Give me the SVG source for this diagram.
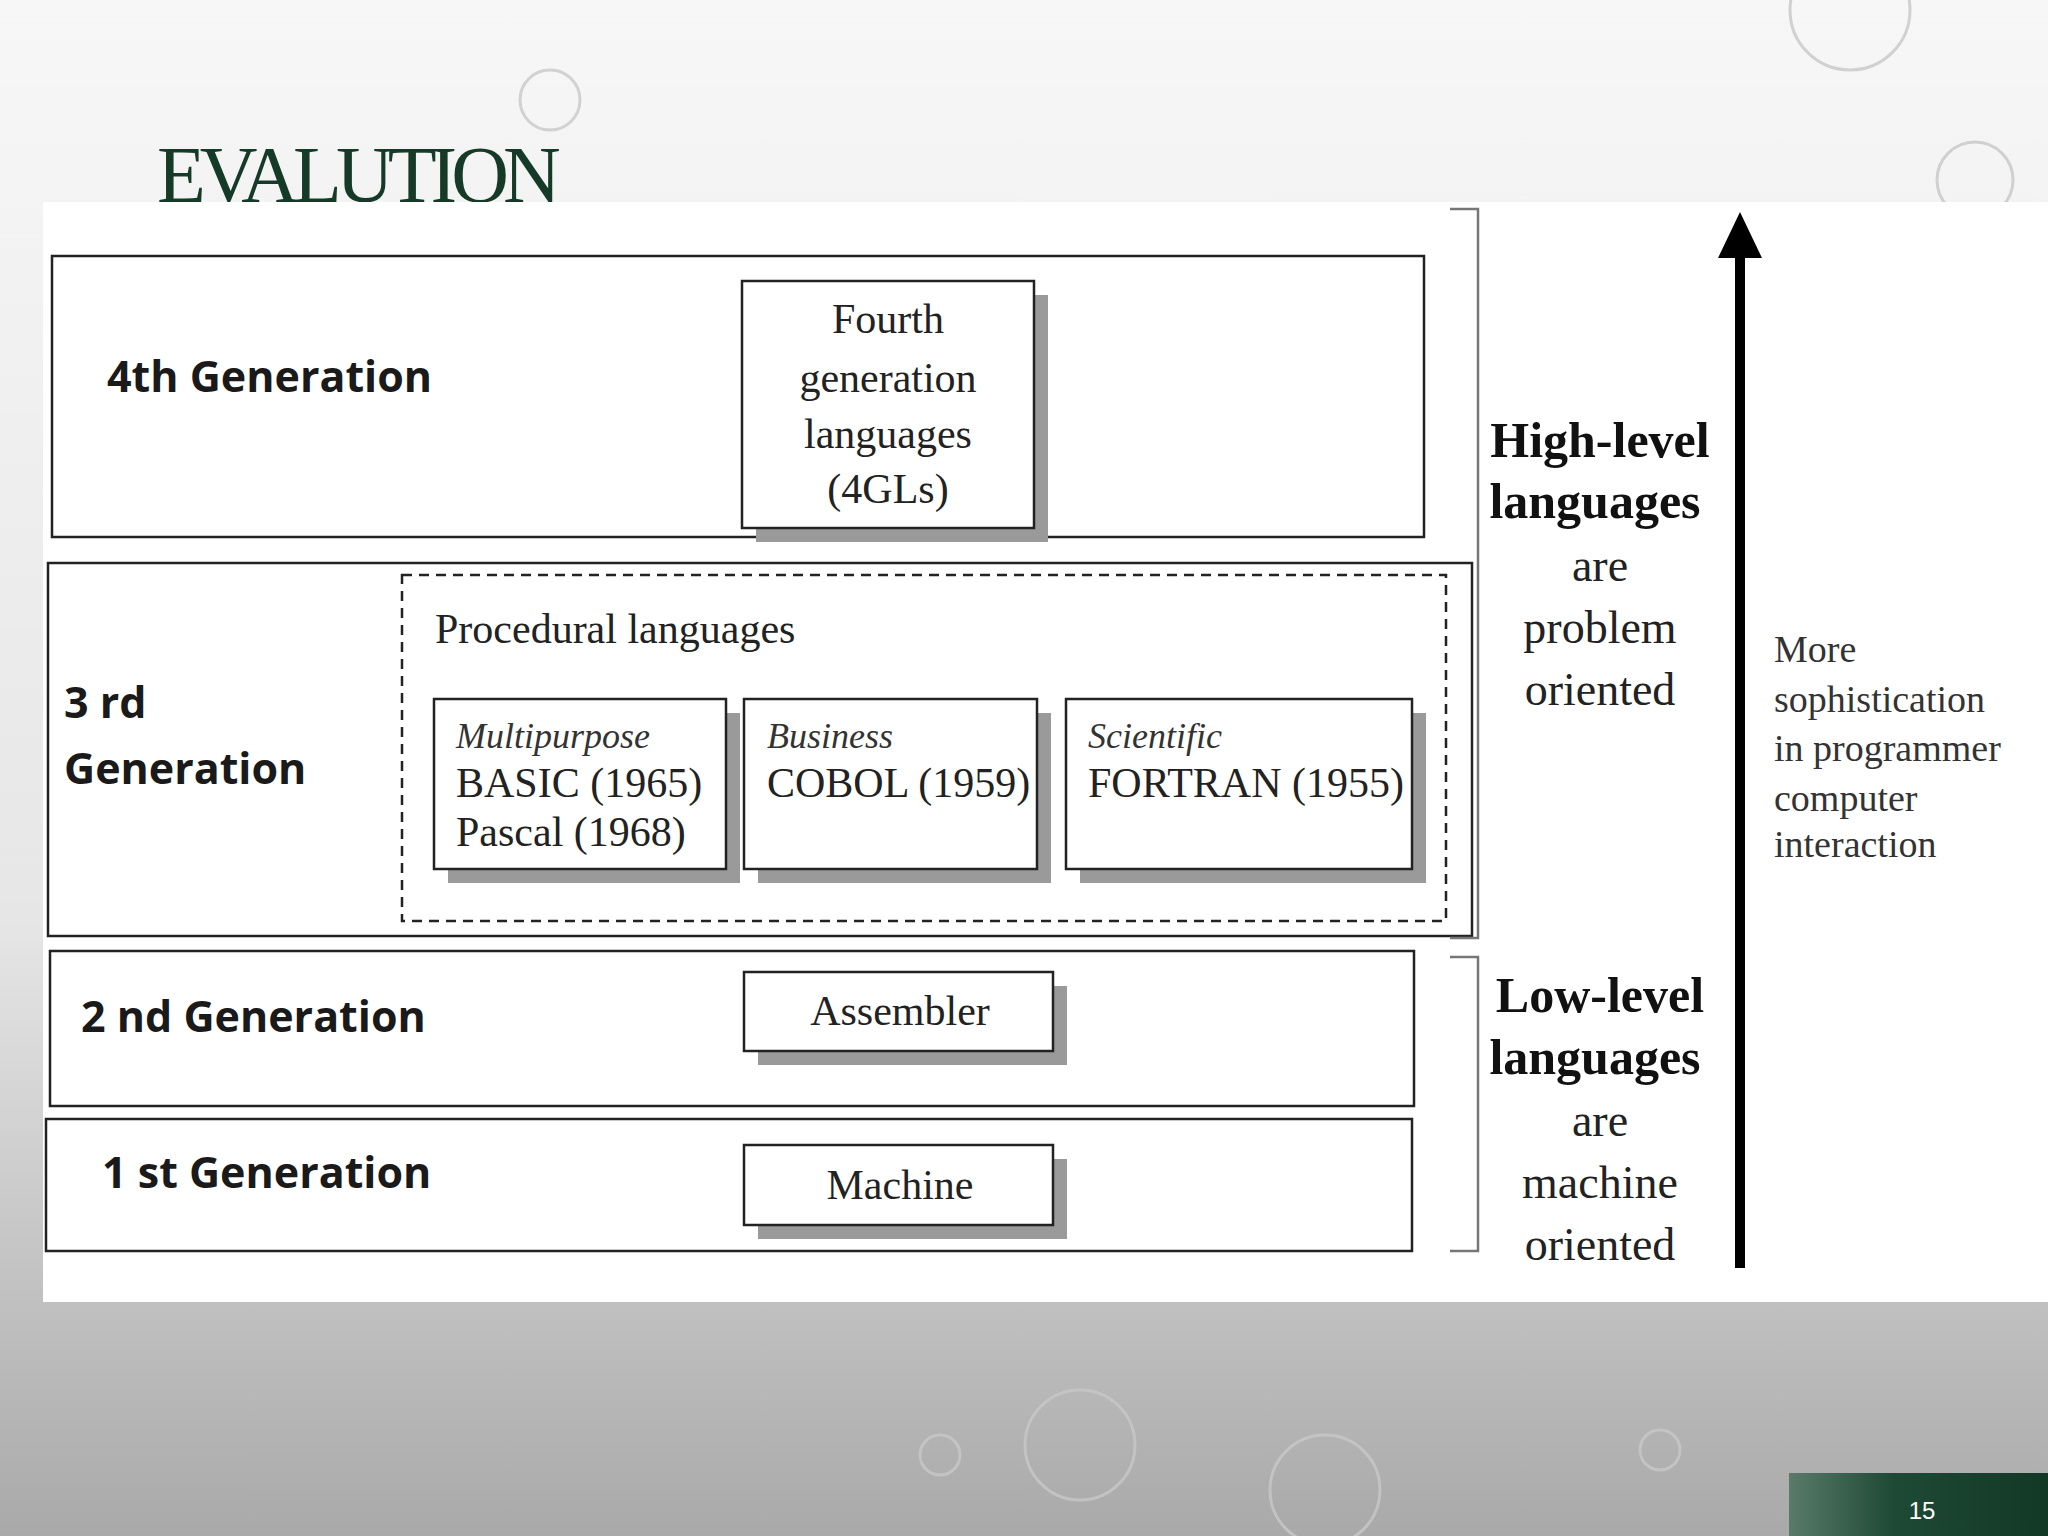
<svg xmlns="http://www.w3.org/2000/svg" width="2048" height="1536" viewBox="0 0 2048 1536">
<defs>
<linearGradient id="bg" x1="0" y1="0" x2="0" y2="1"><stop offset="0" stop-color="#f7f7f7"/><stop offset="0.6" stop-color="#e6e6e6"/><stop offset="1" stop-color="#a9a9a9"/></linearGradient>
<linearGradient id="pg" x1="0" y1="0" x2="1" y2="0"><stop offset="0" stop-color="#5a7a6a"/><stop offset="0.4" stop-color="#1e4a35"/><stop offset="1" stop-color="#123826"/></linearGradient>
<style>
.box{fill:#fff;stroke:#222;stroke-width:2.5}
.sbox{fill:#fff;stroke:#222;stroke-width:2.5}
.sh{fill:#9a9a9a}
.gen{font-family:"Open Sans","DejaVu Sans",sans-serif;font-weight:bold;font-size:43px;fill:#1a1a1a}
.ser{font-family:"Liberation Serif",serif;font-size:42px;fill:#222}
.it{font-family:"Liberation Serif",serif;font-style:italic;font-size:36px;fill:#333}
.rb{font-family:"Liberation Serif",serif;font-weight:bold;font-size:50px;fill:#111;text-anchor:middle}
.rr{font-family:"Liberation Serif",serif;font-size:46px;fill:#222;text-anchor:middle}
.sm{font-family:"Liberation Serif",serif;font-size:38px;fill:#333}
</style>
</defs>
<rect width="2048" height="1536" fill="url(#bg)"/>
<g fill="none" stroke="#c8c8c8" stroke-width="3" opacity="0.8">
<circle cx="1080" cy="1445" r="55"/><circle cx="940" cy="1455" r="20"/><circle cx="1325" cy="1490" r="55"/><circle cx="1660" cy="1450" r="20"/><circle cx="1975" cy="180" r="38"/><circle cx="550" cy="100" r="30"/><circle cx="1850" cy="10" r="60"/>
</g>
<text x="157" y="202" font-family="'Liberation Serif',serif" font-size="80" fill="#163a28" letter-spacing="-6">EVALUTION</text>
<rect x="43" y="202" width="2005" height="1100" fill="#fff"/>
<g id="gen4">
<rect class="box" x="52" y="256" width="1372" height="281"/>
<text class="gen" x="107" y="392">4th Generation</text>
<rect class="sh" x="756" y="295" width="292" height="247"/>
<rect class="sbox" x="742" y="281" width="292" height="247"/>
<g class="ser" text-anchor="middle"><text x="888" y="333">Fourth</text><text x="888" y="392">generation</text><text x="888" y="448">languages</text><text x="888" y="503">(4GLs)</text></g>
</g>
<g id="gen3">
<rect class="box" x="48" y="563" width="1424" height="373"/>
<text class="gen" x="64" y="718">3 rd</text><text class="gen" x="64" y="784">Generation</text>
<rect x="402" y="575" width="1044" height="346" fill="none" stroke="#222" stroke-width="2.5" stroke-dasharray="10,7"/>
<text class="ser" x="435" y="643">Procedural languages</text>
<rect class="sh" x="448" y="713" width="292" height="170"/><rect class="sbox" x="434" y="699" width="292" height="170"/>
<rect class="sh" x="758" y="713" width="293" height="170"/><rect class="sbox" x="744" y="699" width="293" height="170"/>
<rect class="sh" x="1080" y="713" width="346" height="170"/><rect class="sbox" x="1066" y="699" width="346" height="170"/>
<text class="it" x="456" y="748">Multipurpose</text><text class="ser" x="456" y="797" font-size="38">BASIC (1965)</text><text class="ser" x="456" y="846" font-size="38">Pascal  (1968)</text>
<text class="it" x="767" y="748">Business</text><text class="ser" x="767" y="797" font-size="38">COBOL (1959)</text>
<text class="it" x="1088" y="748">Scientific</text><text class="ser" x="1088" y="797" font-size="38">FORTRAN (1955)</text>
</g>
<g id="gen2">
<rect class="box" x="50" y="951" width="1364" height="155"/>
<text class="gen" x="81" y="1032">2 nd Generation</text>
<rect class="sh" x="758" y="986" width="309" height="79"/><rect class="sbox" x="744" y="972" width="309" height="79"/>
<text class="ser" x="900" y="1025" text-anchor="middle">Assembler</text>
</g>
<g id="gen1">
<rect class="box" x="46" y="1119" width="1366" height="132"/>
<text class="gen" x="102" y="1188">1 st Generation</text>
<rect class="sh" x="758" y="1159" width="309" height="80"/><rect class="sbox" x="744" y="1145" width="309" height="80"/>
<text class="ser" x="900" y="1199" text-anchor="middle">Machine</text>
</g>
<g id="connectors" fill="none" stroke="#777" stroke-width="2.5">
<polyline points="1450,209 1478,209 1478,938 1450,938"/>
<polyline points="1450,957 1478,957 1478,1251 1450,1251"/>
<line x1="1740" y1="1268" x2="1740" y2="250" stroke="#000" stroke-width="10"/>
<polygon points="1740,212 1718,258 1762,258" fill="#000" stroke="none"/>
</g>
<g id="labels">
<text class="rb" x="1600" y="457">High-level</text><text class="rb" x="1595" y="518">languages</text>
<text class="rr" x="1600" y="581">are</text><text class="rr" x="1600" y="643">problem</text><text class="rr" x="1600" y="705">oriented</text>
<text class="rb" x="1600" y="1012">Low-level</text><text class="rb" x="1595" y="1074">languages</text>
<text class="rr" x="1600" y="1136">are</text><text class="rr" x="1600" y="1198">machine</text><text class="rr" x="1600" y="1260">oriented</text>
<g class="sm"><text x="1774" y="662">More</text><text x="1774" y="712">sophistication</text><text x="1774" y="761">in programmer</text><text x="1774" y="811">computer</text><text x="1774" y="857">interaction</text></g>
</g>
<rect x="1789" y="1473" width="259" height="63" fill="url(#pg)"/>
<text x="1922" y="1519" font-family="'Liberation Sans',sans-serif" font-size="24" fill="#fff" text-anchor="middle">15</text>
</svg>
